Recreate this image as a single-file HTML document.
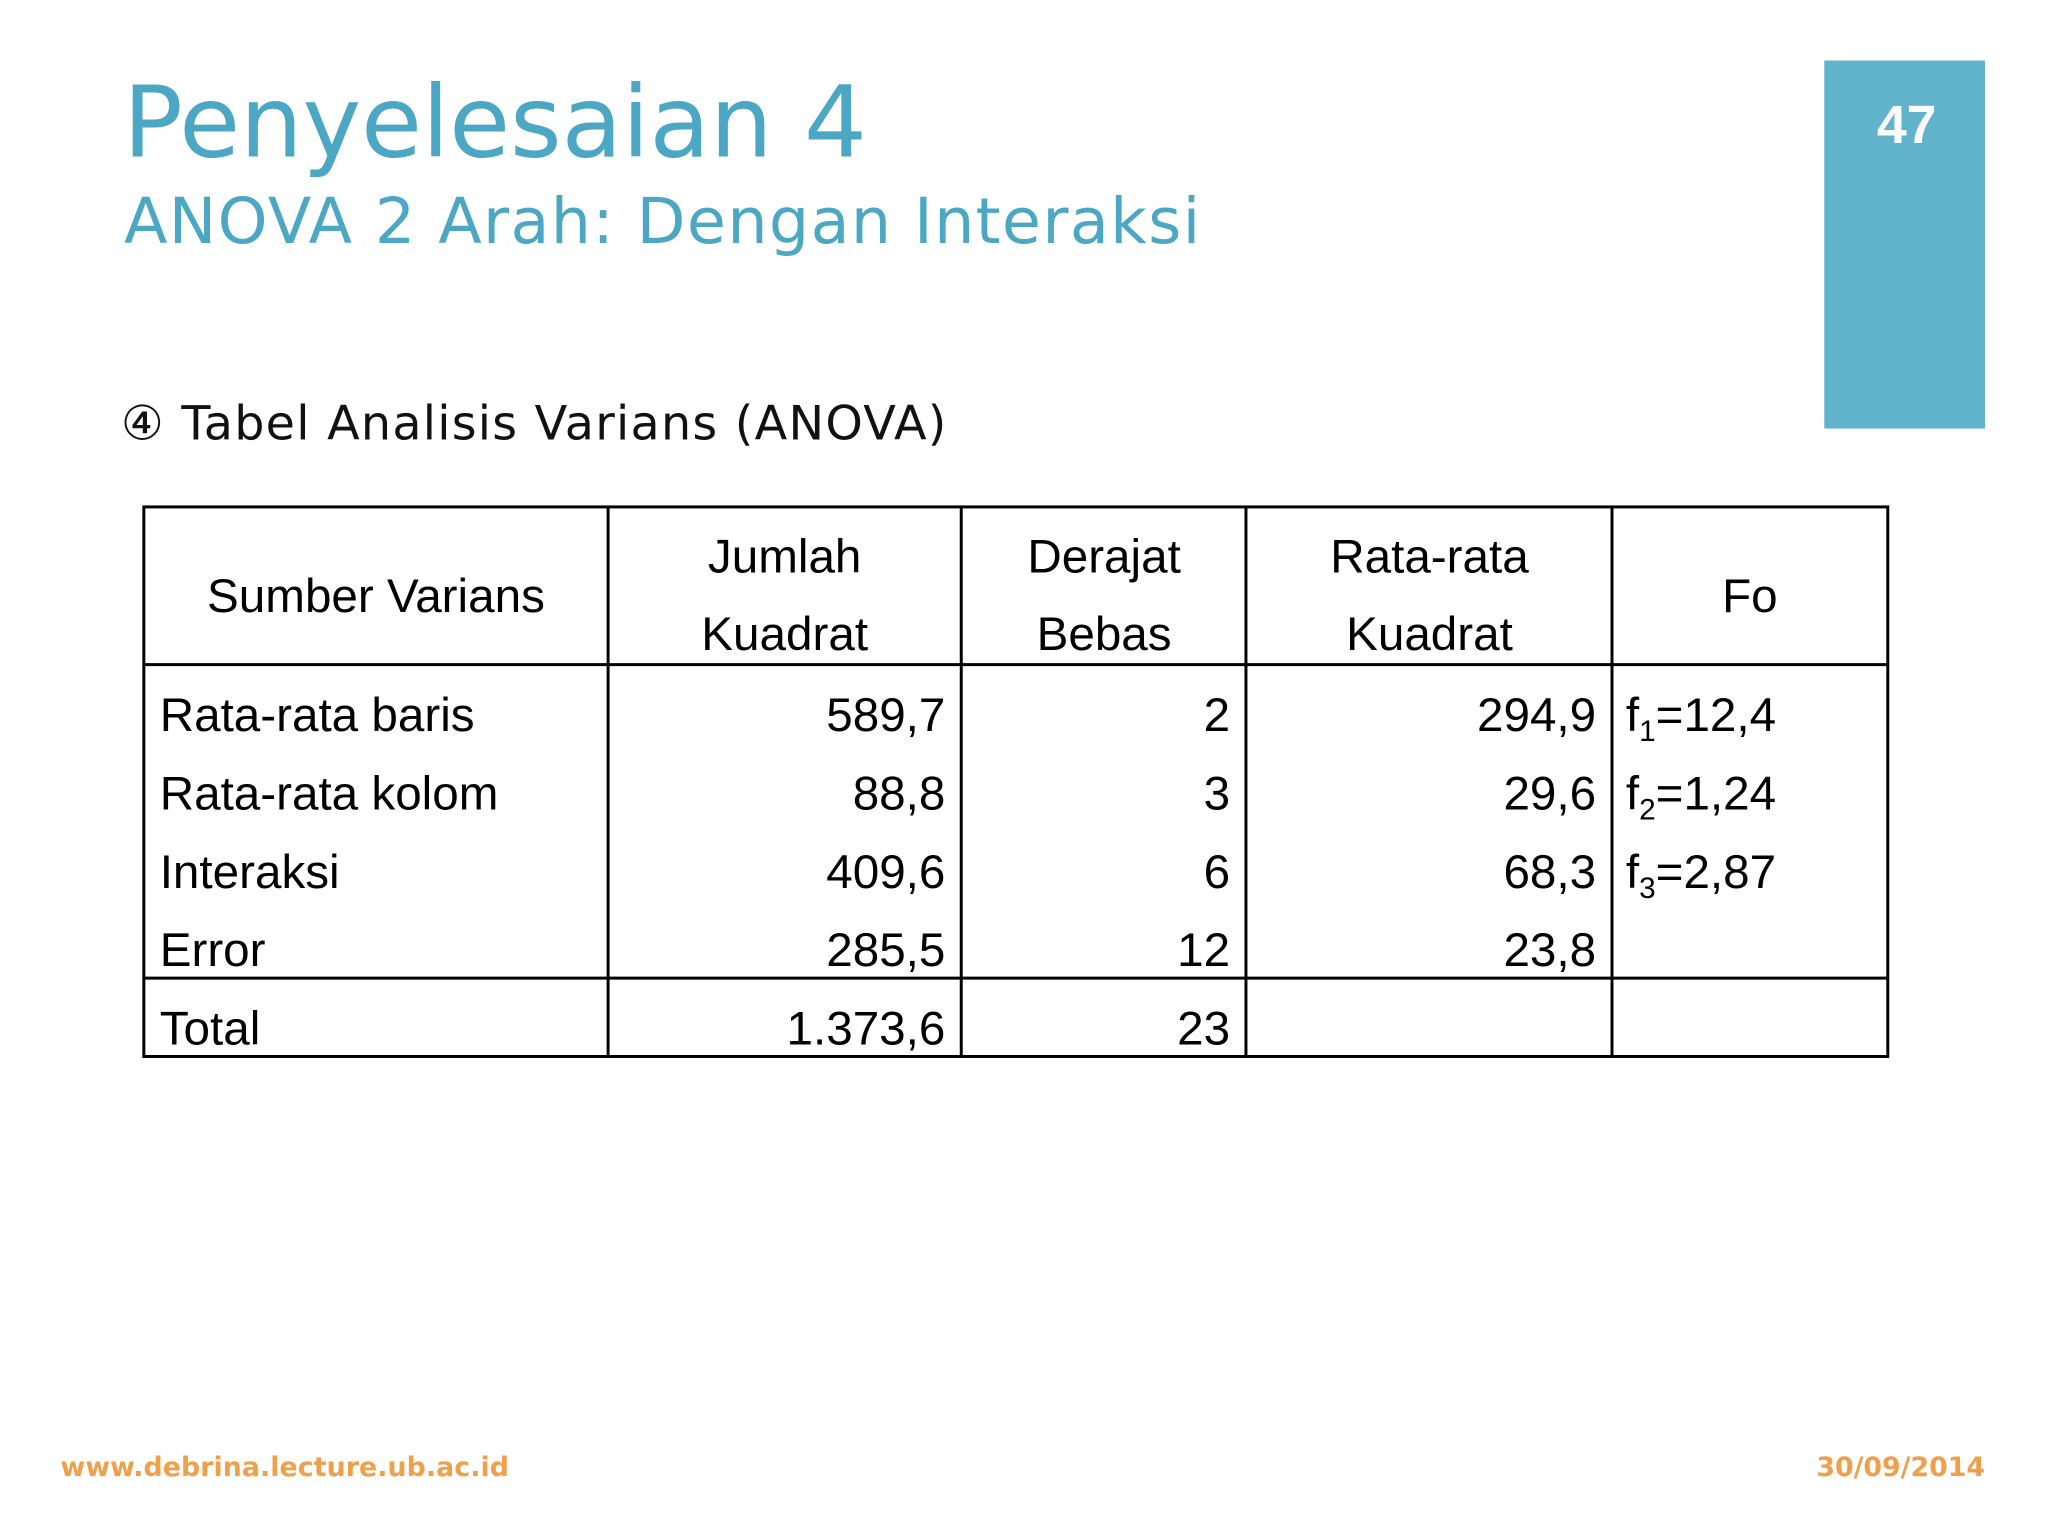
<!DOCTYPE html>
<html><head><meta charset="utf-8"><style>
html,body{margin:0;padding:0;background:#fff}
svg{display:block}
</style></head><body>
<svg width="2048" height="1536" viewBox="0 0 2048 1536" xmlns="http://www.w3.org/2000/svg">
<rect x="0" y="0" width="2048" height="1536" fill="#fff"/>
<g transform="scale(0.992)">
<rect x="1839" y="61" width="162" height="371" fill="#62B3CC"/>
<text x="1922" y="144" font-family="Liberation Sans, sans-serif" font-weight="bold" font-size="54" fill="#fff" text-anchor="middle">47</text>
<text x="124" y="158" font-family="DejaVu Sans, sans-serif" font-size="100" fill="#4BA7C4" textLength="750">Penyelesaian 4</text>
<text x="125" y="245" font-family="DejaVu Sans, sans-serif" font-size="64" fill="#4BA7C4" textLength="1085">ANOVA 2 Arah: Dengan Interaksi</text>
<text x="122" y="443" font-family="DejaVu Sans, sans-serif" font-size="48" fill="#111" textLength="832">④ Tabel Analisis Varians (ANOVA)</text>

<g stroke="#000" stroke-width="3" fill="none">
<rect x="145" y="511" width="1758" height="554"/>
<line x1="613" y1="511" x2="613" y2="1065"/>
<line x1="969" y1="511" x2="969" y2="1065"/>
<line x1="1256" y1="511" x2="1256" y2="1065"/>
<line x1="1625" y1="511" x2="1625" y2="1065"/>
<line x1="145" y1="670" x2="1903" y2="670"/>
<line x1="145" y1="986" x2="1903" y2="986"/>
</g>
<g font-family="Liberation Sans, sans-serif" font-size="48" fill="#000">
<text x="379" y="617" text-anchor="middle">Sumber  Varians</text>
<text x="791" y="577" text-anchor="middle">Jumlah</text>
<text x="791" y="655" text-anchor="middle">Kuadrat</text>
<text x="1113" y="577" text-anchor="middle">Derajat</text>
<text x="1113" y="655" text-anchor="middle">Bebas</text>
<text x="1441" y="577" text-anchor="middle">Rata-rata</text>
<text x="1441" y="655" text-anchor="middle">Kuadrat</text>
<text x="1764" y="617" text-anchor="middle">Fo</text>

<text x="161" y="737">Rata-rata baris</text>
<text x="161" y="816">Rata-rata kolom</text>
<text x="161" y="895">Interaksi</text>
<text x="161" y="974">Error</text>
<text x="161" y="1053">Total</text>

<g text-anchor="end">
<text x="953" y="737">589,7</text><text x="953" y="816">88,8</text><text x="953" y="895">409,6</text><text x="953" y="974">285,5</text><text x="953" y="1053">1.373,6</text>
<text x="1240" y="737">2</text><text x="1240" y="816">3</text><text x="1240" y="895">6</text><text x="1240" y="974">12</text><text x="1240" y="1053">23</text>
<text x="1609" y="737">294,9</text><text x="1609" y="816">29,6</text><text x="1609" y="895">68,3</text><text x="1609" y="974">23,8</text>
</g>
<text x="1639" y="737">f<tspan font-size="30" dy="10">1</tspan><tspan dy="-10">=12,4</tspan></text>
<text x="1639" y="816">f<tspan font-size="30" dy="10">2</tspan><tspan dy="-10">=1,24</tspan></text>
<text x="1639" y="895">f<tspan font-size="30" dy="10">3</tspan><tspan dy="-10">=2,87</tspan></text>
</g>

<text x="61" y="1488" font-family="DejaVu Sans, sans-serif" font-weight="bold" font-size="27" fill="#F0A04B" textLength="452">www.debrina.lecture.ub.ac.id</text>
<text x="2001" y="1488" font-family="DejaVu Sans, sans-serif" font-weight="bold" font-size="27" fill="#F0A04B" text-anchor="end" textLength="170">30/09/2014</text>
</g>
</svg>
</body></html>
